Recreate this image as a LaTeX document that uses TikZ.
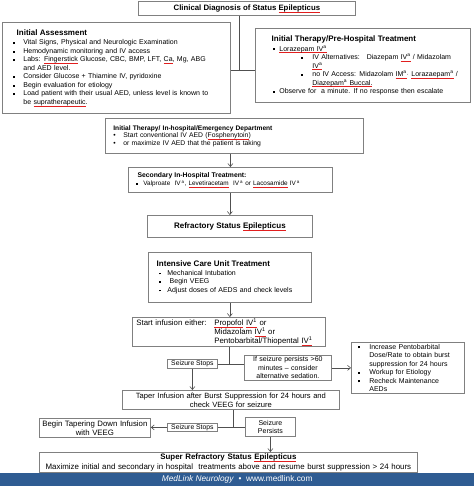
\documentclass[tikz,border=0pt]{standalone}
\usepackage{fontspec}
\setmainfont{Liberation Sans}
\usetikzlibrary{positioning, arrows.meta}
\definecolor{boxgray}{RGB}{128,128,128}
\definecolor{linegray}{RGB}{80,80,80}
\definecolor{medlinkblue}{RGB}{47,92,146}
\definecolor{spellred}{RGB}{225,30,30}

\newsavebox{\spellbox}
\newcommand{\spell}[1]{\sbox{\spellbox}{#1}\rlap{\textcolor{spellred}{\rule[-1.6pt]{\wd\spellbox}{0.4pt}}}\usebox{\spellbox}}
\newcommand{\fn}[1]{\textsuperscript{#1}}
\newcommand{\sqb}[1][10pt]{\makebox[#1][l]{\raisebox{0.9pt}{\rule{1.8pt}{1.8pt}}}}
\newcommand{\rdb}[1][10pt]{\makebox[#1][l]{\textbullet}}
\newcommand{\fsz}[1]{\fontsize{#1}{8.5}\selectfont}

\begin{document}
\begin{tikzpicture}[x=1pt, y=-1pt,
    box/.style={draw=boxgray, line width=0.8pt, fill=white, inner sep=0pt, font=\fontsize{7}{8.5}\selectfont},
    lbox/.style={box, anchor=north west, align=left},
    cbox/.style={box, anchor=north west, align=center},
    tag/.style={box, anchor=north west, font=\fontsize{6.8}{7}\selectfont},
    arrow/.style={-{Straight Barb[length=3pt, width=5pt]}, linegray, line width=0.6pt},
    link/.style={linegray, line width=0.6pt}
]
    \useasboundingbox (0,0) rectangle (474,486);

    % Diagnosis and first treatment
    \node[cbox, minimum width=217, minimum height=14, font=\fontsize{7.8}{9}\selectfont\bfseries] (diag) at (138,1)
        {Clinical Diagnosis of Status \spell{Epilepticus}};
    \node[lbox, minimum width=228, minimum height=91, text width=206] (assess) at (2,22)
        {\hspace*{1pt}\textbf{\fsz{8} Initial Assessment}\\[1pt]
         \sqb Vital Signs, Physical and Neurologic Examination\\
         \sqb Hemodynamic monitoring and IV access\\
         \sqb Labs: \spell{Fingerstick} Glucose, CBC, BMP, LFT, \spell{Ca}, Mg, ABG\\
         \hspace*{10pt}and AED level.\\
         \sqb Consider Glucose + Thiamine IV, pyridoxine\\
         \sqb Begin evaluation for etiology\\
         \sqb Load patient with their usual AED, unless level is known to\\
         \hspace*{10pt}be \spell{supratherapeutic}.};
    \node[lbox, minimum width=215, minimum height=74, text width=195] (prehosp) at (255,28)
        {\hspace*{4pt}\textbf{\fsz{8} Initial Therapy/Pre-Hospital Treatment}\\[1pt]
         \hspace*{8pt}\sqb[6pt]\spell{Lorazepam IV\fn{a}}\\
         \hspace*{36pt}\sqb[11pt]IV Alternatives:\quad Diazepam \spell{IV\fn{a}} / Midazolam\\
         \hspace*{47pt}\spell{IV\fn{a}}\\
         \hspace*{36pt}\sqb[11pt]no IV Access: Midazolam \spell{IM\fn{a}}$\cdot$ \spell{Lorazaepam\fn{a}} /\\
         \hspace*{47pt}\spell{Diazepam\fn{a} Buccal.}\\
         \hspace*{8pt}\sqb[6pt]Observe for\ \ a minute. If no response then escalate};

    % Hospital treatment chain
    \node[lbox, minimum width=258, minimum height=35, text width=242, font=\fontsize{6.8}{7.5}\selectfont] (inhosp) at (105,118)
        {\textbf{\fontsize{6.6}{8}\selectfont Initial Therapy/ In-hospital/Emergency Department}\\
         \rdb Start conventional IV AED (\spell{Fosphenytoin})\\
         \rdb or maximize IV AED that the patient is taking};
    \node[lbox, minimum width=204, minimum height=25, text width=190, font=\fontsize{6.4}{8}\selectfont] (second) at (128,167)
        {\textbf{\fsz{6.8} Secondary In-Hospital Treatment:}\\
         \hspace*{1pt}\sqb[7pt]Valproate\ \ IV\,\fn{a}, \spell{Levetiracetam}\ \ IV\,\fn{a} or \spell{Lacosamide} IV\,\fn{a}};
    \node[cbox, minimum width=165, minimum height=22, font=\fontsize{8}{9}\selectfont\bfseries] (refract) at (147,215)
        {Refractory Status \spell{Epilepticus}};
    \node[lbox, minimum width=163, minimum height=50, text width=151] (icu) at (148,252)
        {\textbf{\fsz{8} Intensive Care Unit Treatment}\\
         \hspace*{5pt}\sqb[8pt]Mechanical Intubation\\
         \hspace*{5pt}\sqb[8pt]\ Begin VEEG\\
         \hspace*{5pt}\sqb[8pt]Adjust doses of AEDS and check levels};
    \node[lbox, minimum width=193, minimum height=29, text width=185, font=\fontsize{7.8}{9}\selectfont] (infuse) at (132,317)
        {\makebox[78pt][l]{Start infusion either:}\spell{Propofol} \spell{IV\fn{1}} or\\
         \hspace*{78pt}Midazolam \spell{IV\fn{1}} or\\
         \hspace*{78pt}Pentobarbital/Thiopental \spell{IV\fn{1}}};

    % Response branches
    \node[tag, minimum width=50, minimum height=9] (stops1) at (167,359) {Seizure Stops};
    \node[cbox, minimum width=87, minimum height=25, text width=85] (persist60) at (244,355)
        {If seizure persists >60\\ minutes -- consider\\ alternative sedation.};
    \node[lbox, minimum width=113, minimum height=51, text width=99] (escal) at (351,342)
        {\sqb[11pt]Increase Pentobarbital\\
         \hspace*{11pt}Dose/Rate to obtain burst\\
         \hspace*{11pt}suppression for 24 hours\\
         \sqb[11pt]Workup for Etiology\\
         \sqb[11pt]Recheck Maintenance\\
         \hspace*{11pt}AEDs};
    \node[cbox, minimum width=217, minimum height=19, text width=215, font=\fontsize{7.6}{9}\selectfont] (taper) at (122,390)
        {Taper Infusion after Burst Suppression for 24 hours and\\ check VEEG for seizure};
    \node[cbox, minimum width=111, minimum height=19, text width=109, font=\fontsize{7.8}{9}\selectfont] (taperdown) at (39,418)
        {Begin Tapering Down Infusion\\ with VEEG};
    \node[tag, minimum width=50, minimum height=8] (stops2) at (167,423) {Seizure Stops};
    \node[cbox, minimum width=50, minimum height=19, text width=48] (persists) at (245,417)
        {Seizure\\ Persists};
    \node[cbox, minimum width=378, minimum height=20, text width=376, font=\fontsize{7.9}{9.5}\selectfont] (superref) at (39,452)
        {\textbf{Super Refractory Status \spell{Epilepticus}}\\
         Maximize initial and secondary in hospital\ \ treatments above and resume burst suppression > 24 hours};

    % Footer band
    \node[anchor=north west, fill=medlinkblue, minimum width=474, minimum height=13, inner sep=0pt,
          text=white, font=\fontsize{8.3}{9}\selectfont] (footer) at (0,473)
        {\textit{MedLink Neurology}\ \ \textbullet\ \ www.medlink.com};

    % Connectors
    \coordinate (split) at (239,70);
    \draw[link] (diag.south -| split) -- (split);
    \draw[link] (assess.east |- split) -- (prehosp.west |- split);
    \draw[arrow] (second.north |- inhosp.south) -- (second.north);
    \draw[arrow] (refract.north |- second.south) -- (refract.north);
    \draw[arrow] (icu.south) -- (icu.south |- infuse.north);
    \draw[link] (infuse.south) -- (infuse.south |- stops1.east);
    \draw[link] (stops1.east) -- (stops1.east -| persist60.west);
    \draw[arrow] (persist60.east) -- (persist60.east -| escal.west);
    \draw[arrow] (stops1.south) -- (stops1.south |- taper.north);
    \coordinate (split2) at (233,427);
    \draw[link] (taper.south -| split2) -- (split2);
    \draw[link] (stops2.east) -- (stops2.east -| persists.west);
    \draw[arrow] (stops2.west) -- (stops2.west -| taperdown.east);
    \draw[arrow] (persists.south) -- (persists.south |- superref.north);
\end{tikzpicture}
\end{document}
